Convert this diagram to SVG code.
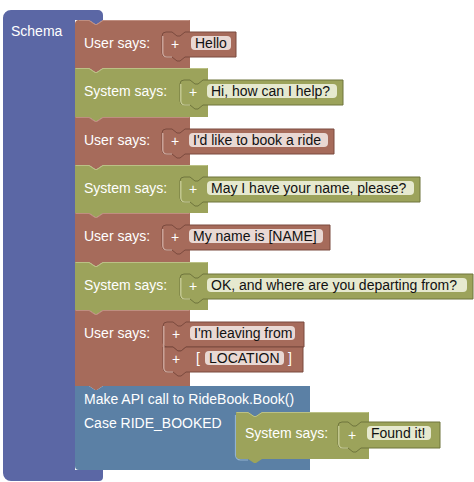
<svg xmlns="http://www.w3.org/2000/svg" width="474" height="482" viewBox="0 0 474 482">
<style>
.schema{fill:#5B67A5}
.user{fill:#A66B5B}
.sys{fill:#9CA35B}
.blue{fill:#5B80A5}
.uIn{fill:#A66B5B;stroke:#7B4A3E;stroke-width:1}
.sIn{fill:#9CA35B;stroke:#6F753D;stroke-width:1}
.uPill{fill:#E9D8D3}
.sPill{fill:#E6E9CF}
.uHi{fill:none;stroke:#D6B4AA;stroke-width:1.2}
.sHi{fill:none;stroke:#D0D4A0;stroke-width:1.2}
.bHi{fill:none;stroke:#93B2D0;stroke-width:1.2}
.uTop{fill:none;stroke:#BF8E80;stroke-width:1}
.sTop{fill:none;stroke:#BBC185;stroke-width:1}
.lbl{font-family:"Liberation Sans",Arial,sans-serif;font-size:14px;fill:#FFFFFF}
.val{font-family:"Liberation Sans",Arial,sans-serif;font-size:14px;fill:#111111}
</style>
<g id="schema">
<path class="schema" d="M3,18 a8,8 0 0 1 8,-8 H98 a5,5 0 0 1 5,5 V20 H103 l-6,4 h-2 l-6,-4 H75 V470 H103 V477 a4,4 0 0 1 -4,4 H11 a8,8 0 0 1 -8,-8 Z"/>
<text class="lbl" x="11" y="36">Schema</text>
</g>
<g id="connectors"></g>
<g id="user1">
<path class="user" d="M75,24 a4,4 0 0 1 4,-4 H89 l6,4 h2 l6,-4 H190 V68 H103 l-6,4 h-2 l-6,-4 H75 Z"/>
<path class="uTop" d="M79,20.5 H89 l6,4 h2 l6,-4 H189.5"/>
<text class="lbl" x="84" y="47.5">User says:</text>
<path class="uIn" d="M166,32 H172 l5,4 h3 l5,-4 H236 V57 H185 l-5,4 h-3 l-5,-4 H166 a4,4 0 0 1 -4,-4 V36 a4,4 0 0 1 4,-4 Z"/>
<path class="uHi" d="M162.8,36 V53 a4,4 0 0 0 4,4 H172"/>
<text class="lbl" x="175" y="49" text-anchor="middle">+</text>
<rect class="uPill" x="191" y="36" width="40" height="14" rx="4"/>
<text class="val" x="195" y="47.5">Hello</text>
</g>
<g id="system1">
<path class="sys" d="M75,68 H89 l6,4 h2 l6,-4 H208 V117 H103 l-6,4 h-2 l-6,-4 H75 Z"/>
<path class="sTop" d="M75.5,68.5 H89 l6,4 h2 l6,-4 H207.5"/>
<text class="lbl" x="84" y="96">System says:</text>
<path class="sIn" d="M184,80 H190 l5,4 h3 l5,-4 H343 V105 H203 l-5,4 h-3 l-5,-4 H184 a4,4 0 0 1 -4,-4 V84 a4,4 0 0 1 4,-4 Z"/>
<path class="sHi" d="M180.8,84 V101 a4,4 0 0 0 4,4 H190"/>
<text class="lbl" x="193" y="97" text-anchor="middle">+</text>
<rect class="sPill" x="207" y="84" width="130" height="14" rx="4"/>
<text class="val" x="211" y="95.5">Hi, how can I help?</text>
</g>
<g id="user2">
<path class="user" d="M75,117 H89 l6,4 h2 l6,-4 H190 V165 H103 l-6,4 h-2 l-6,-4 H75 Z"/>
<path class="uTop" d="M75.5,117.5 H89 l6,4 h2 l6,-4 H189.5"/>
<text class="lbl" x="84" y="144.5">User says:</text>
<path class="uIn" d="M166,129 H172 l5,4 h3 l5,-4 H334 V154 H185 l-5,4 h-3 l-5,-4 H166 a4,4 0 0 1 -4,-4 V133 a4,4 0 0 1 4,-4 Z"/>
<path class="uHi" d="M162.8,133 V150 a4,4 0 0 0 4,4 H172"/>
<text class="lbl" x="175" y="146" text-anchor="middle">+</text>
<rect class="uPill" x="189" y="133" width="139" height="14" rx="4"/>
<text class="val" x="193" y="144.5">I'd like to book a ride</text>
</g>
<g id="system2">
<path class="sys" d="M75,165 H89 l6,4 h2 l6,-4 H208 V213 H103 l-6,4 h-2 l-6,-4 H75 Z"/>
<path class="sTop" d="M75.5,165.5 H89 l6,4 h2 l6,-4 H207.5"/>
<text class="lbl" x="84" y="192.5">System says:</text>
<path class="sIn" d="M184,177 H190 l5,4 h3 l5,-4 H420 V202 H203 l-5,4 h-3 l-5,-4 H184 a4,4 0 0 1 -4,-4 V181 a4,4 0 0 1 4,-4 Z"/>
<path class="sHi" d="M180.8,181 V198 a4,4 0 0 0 4,4 H190"/>
<text class="lbl" x="193" y="194" text-anchor="middle">+</text>
<rect class="sPill" x="207" y="181" width="207" height="14" rx="4"/>
<text class="val" x="211" y="192.5">May I have your name, please?</text>
</g>
<g id="user3">
<path class="user" d="M75,213 H89 l6,4 h2 l6,-4 H190 V262 H103 l-6,4 h-2 l-6,-4 H75 Z"/>
<path class="uTop" d="M75.5,213.5 H89 l6,4 h2 l6,-4 H189.5"/>
<text class="lbl" x="84" y="240.5">User says:</text>
<path class="uIn" d="M166,225 H172 l5,4 h3 l5,-4 H330 V250 H185 l-5,4 h-3 l-5,-4 H166 a4,4 0 0 1 -4,-4 V229 a4,4 0 0 1 4,-4 Z"/>
<path class="uHi" d="M162.8,229 V246 a4,4 0 0 0 4,4 H172"/>
<text class="lbl" x="175" y="242" text-anchor="middle">+</text>
<rect class="uPill" x="189" y="229" width="134" height="14" rx="4"/>
<text class="val" x="193" y="240.5">My name is [NAME]</text>
</g>
<g id="system3">
<path class="sys" d="M75,262 H89 l6,4 h2 l6,-4 H208 V310 H103 l-6,4 h-2 l-6,-4 H75 Z"/>
<path class="sTop" d="M75.5,262.5 H89 l6,4 h2 l6,-4 H207.5"/>
<text class="lbl" x="84" y="289.5">System says:</text>
<path class="sIn" d="M184,274 H190 l5,4 h3 l5,-4 H473 V299 H203 l-5,4 h-3 l-5,-4 H184 a4,4 0 0 1 -4,-4 V278 a4,4 0 0 1 4,-4 Z"/>
<path class="sHi" d="M180.8,278 V295 a4,4 0 0 0 4,4 H190"/>
<text class="lbl" x="193" y="291" text-anchor="middle">+</text>
<rect class="sPill" x="207" y="278" width="260" height="14" rx="4"/>
<text class="val" x="211" y="289.5">OK, and where are you departing from?</text>
</g>
<g id="user4">
<path class="user" d="M75,310 H89 l6,4 h2 l6,-4 H190 V386 H103 l-6,4 h-2 l-6,-4 H75 Z"/>
<path class="uTop" d="M75.5,310.5 H89 l6,4 h2 l6,-4 H189.5"/>
<text class="lbl" x="84" y="338">User says:</text>
<path class="uIn" d="M167,322 H173 l5,4 h3 l5,-4 H304 V347 H186 l-5,4 h-3 l-5,-4 H167 a4,4 0 0 1 -4,-4 V326 a4,4 0 0 1 4,-4 Z"/>
<text class="lbl" x="176" y="339" text-anchor="middle">+</text>
<rect class="uPill" x="190" y="326" width="105" height="14" rx="4"/>
<text class="val" x="194" y="337.5">I'm leaving from</text>
<path class="uIn" d="M163,347 H173 l5,4 h3 l5,-4 H303 V372 H186 l-5,4 h-3 l-5,-4 H167 a4,4 0 0 1 -4,-4 Z"/>
<path class="uHi" d="M163.8,326 V368 a4,4 0 0 0 4,4 H173"/>
<text class="lbl" x="176" y="364" text-anchor="middle">+</text>
<text class="lbl" x="196" y="362.5">[</text>
<rect class="uPill" x="205" y="351" width="79" height="14" rx="4"/>
<text class="val" x="209" y="362.5">LOCATION</text>
<text class="lbl" x="288" y="362.5">]</text>
</g>
<g id="apiCall">
<path class="blue" d="M75,386 H89 l6,4 h2 l6,-4 H310 V470 H79 a4,4 0 0 1 -4,-4 Z"/>
<text class="lbl" x="84" y="404">Make API call to RideBook.Book()</text>
<text class="lbl" x="84" y="428">Case RIDE_BOOKED</text>
<path class="bHi" d="M235.5,415 V455 a5,5 0 0 0 5,5 H248"/>
</g>
<g id="system4">
<path class="sys" d="M236,412 H248 l6,4 h2 l6,-4 H369 V459 H262 l-6,4 h-2 l-6,-4 H240 a4,4 0 0 1 -4,-4 Z"/>
<path class="sTop" d="M236.5,412.5 H248 l6,4 h2 l6,-4 H368.5"/>
<text class="lbl" x="245" y="437.5">System says:</text>
<path class="sIn" d="M342,422 H348 l5,4 h3 l5,-4 H440 V448 H361 l-5,4 h-3 l-5,-4 H342 a4,4 0 0 1 -4,-4 V426 a4,4 0 0 1 4,-4 Z"/>
<path class="sHi" d="M338.8,426 V444 a4,4 0 0 0 4,4 H348"/>
<text class="lbl" x="352" y="440" text-anchor="middle">+</text>
<rect class="sPill" x="367" y="426" width="64" height="14" rx="4"/>
<text class="val" x="371" y="437.5">Found it!</text>
</g>
</svg>
